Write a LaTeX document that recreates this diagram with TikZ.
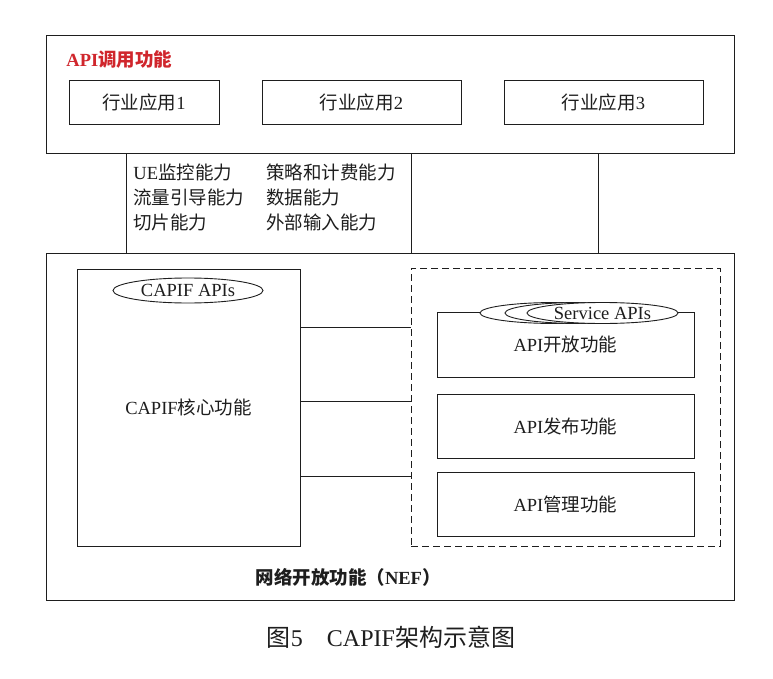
\documentclass[tikz,border=0pt]{standalone}
\usepackage{fontspec}
\setmainfont{Liberation Serif}
\newfontfamily\cjk{Noto Sans CJK SC}
\usetikzlibrary{shapes.geometric}
\definecolor{TitleRed}{HTML}{D0262C}
\definecolor{Ink}{HTML}{1E1E1E}
\newcommand\figsize{\fontsize{18.5}{25}\selectfont}

\begin{document}
\begin{tikzpicture}[
  x=1pt,y=-1pt,line width=0.9pt,
  txt/.style={font=\figsize,text=Ink},
  heavy/.style={font=\figsize\bfseries},
  box/.style={draw=Ink,rectangle,inner sep=0pt,txt},
  api/.style={draw=Ink,fill=white,ellipse,inner sep=0pt,minimum width=151pt,minimum height=21pt}
]
  \fill[white] (0,0) rectangle (773,679);
  \useasboundingbox (0,0) rectangle (773,679);

  % API invoker with its applications
  \node[box,minimum width=688pt,minimum height=118pt] (invoke) at (390,94) {};
  \node[heavy,text=TitleRed,anchor=west,inner sep=0pt] (invtitle) at (66,59) {API{\cjk 调用功能}};
  \node[box,minimum width=150pt,minimum height=44pt] (app1) at (144,102) {{\cjk 行业应用}1};
  \node[box,minimum width=199pt,minimum height=44pt] (app2) at (361.5,102) {{\cjk 行业应用}2};
  \node[box,minimum width=199pt,minimum height=44pt] (app3) at (603.5,102) {{\cjk 行业应用}3};

  % network exposure function
  \node[box,minimum width=688pt,minimum height=347pt] (nef) at (390,426.5) {};
  \foreach \x in {126,411,598}
    \draw[Ink] (invoke.south -| \x,0) -- (nef.north -| \x,0);

  \node[txt,align=left,anchor=west,inner sep=0pt] (capa) at (133,197)
    {UE{\cjk 监控能力}\\{\cjk 流量引导能力}\\{\cjk 切片能力}};
  \node[txt,align=left,anchor=west,inner sep=0pt] (capb) at (266,197)
    {{\cjk 策略和计费能力}\\{\cjk 数据能力}\\{\cjk 外部输入能力}};

  % CAPIF core
  \node[box,minimum width=223pt,minimum height=277pt] (core) at (188.5,407.5) {CAPIF{\cjk 核心功能}};
  \node[api,minimum width=150pt,minimum height=25pt,label={[txt]center:CAPIF APIs}] (capifapis) at (188,290.5) {};

  % exposer side
  \node[box,dash pattern=on 7pt off 4pt,minimum width=309pt,minimum height=278pt] (expo) at (565.5,407) {};
  \foreach \y in {327,401,476}
    \draw[Ink] (core.east |- 0,\y) -- (expo.west |- 0,\y);

  \node[box,minimum width=257pt,minimum height=65pt] (open) at (565.5,344.5) {API{\cjk 开放功能}};
  \node[box,minimum width=257pt,minimum height=64pt] (publish) at (565.5,426) {API{\cjk 发布功能}};
  \node[box,minimum width=257pt,minimum height=64pt] (manage) at (565.5,504) {API{\cjk 管理功能}};

  \node[api] (svc1) at (555.5,313) {};
  \node[api] (svc2) at (580.5,313) {};
  \node[api,label={[txt]center:Service APIs}] (svc3) at (602.5,313) {};

  \node[heavy,text=Ink] (neflabel) at (348,577) {{\cjk 网络开放功能（}NEF{\cjk ）}};

  % caption
  \node[font=\fontsize{24}{28}\selectfont,text=Ink] (caption) at (391,637)
    {{\cjk 图}5{\cjk 　}CAPIF{\cjk 架构示意图}};
\end{tikzpicture}
\end{document}
